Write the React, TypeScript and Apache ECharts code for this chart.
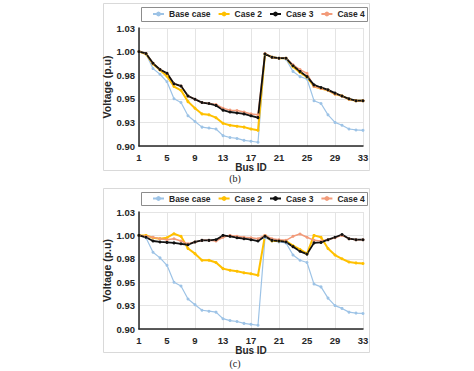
import React, { useEffect, useRef } from "react";
import * as echarts from "echarts";

const buses = ["1","2","3","4","5","6","7","8","9","10","11","12","13","14","15","16","17","18","19","20","21","22","23","24","25","26","27","28","29","30","31","32","33"];
const yTickLabels = ["0.90", "0.93", "0.95", "0.98", "1.00", "1.03"];
const seriesNames = ["Base case", "Case 2", "Case 3", "Case 4"];

// Base case is shared by both panels
const baseCase = [1.000, 0.9975, 0.982, 0.976, 0.968, 0.950, 0.946, 0.932, 0.926, 0.920, 0.919, 0.918, 0.911, 0.909, 0.908, 0.906, 0.905, 0.904, 0.9975, 0.994, 0.993, 0.992, 0.979, 0.9735, 0.971, 0.948, 0.945, 0.933, 0.925, 0.922, 0.918, 0.917, 0.9166];

// Panel (b)
const case2B = [1.000, 0.9975, 0.987, 0.9806, 0.974, 0.963, 0.959, 0.947, 0.940, 0.934, 0.933, 0.930, 0.924, 0.922, 0.921, 0.920, 0.918, 0.9166, 0.9975, 0.994, 0.993, 0.993, 0.984, 0.978, 0.973, 0.963, 0.961, 0.959, 0.955, 0.953, 0.9495, 0.948, 0.948];
const case3B = [1.000, 0.998, 0.9876, 0.981, 0.977, 0.966, 0.9635, 0.953, 0.9495, 0.946, 0.945, 0.943, 0.938, 0.936, 0.935, 0.934, 0.932, 0.930, 0.9975, 0.994, 0.993, 0.993, 0.985, 0.979, 0.9735, 0.9647, 0.962, 0.9595, 0.956, 0.953, 0.950, 0.948, 0.948];
const case4B = [1.000, 0.998, 0.9876, 0.981, 0.977, 0.966, 0.9635, 0.953, 0.9495, 0.946, 0.945, 0.944, 0.940, 0.938, 0.9375, 0.936, 0.934, 0.933, 0.998, 0.994, 0.993, 0.993, 0.986, 0.981, 0.977, 0.963, 0.961, 0.959, 0.955, 0.953, 0.9495, 0.948, 0.948];

// Panel (c)
const case2C = [1.000, 1.000, 0.9975, 0.9965, 0.9975, 1.0018, 0.999, 0.986, 0.9805, 0.9734, 0.9734, 0.971, 0.9645, 0.9628, 0.9617, 0.960, 0.959, 0.9574, 1.000, 0.994, 0.994, 0.994, 0.989, 0.985, 0.9805, 1.000, 0.998, 0.986, 0.979, 0.975, 0.9716, 0.9706, 0.970];
const case3C = [1.000, 0.998, 0.994, 0.993, 0.9925, 0.992, 0.991, 0.990, 0.993, 0.9947, 0.9947, 0.9954, 1.000, 0.999, 0.9975, 0.9965, 0.9954, 0.994, 0.999, 0.9947, 0.994, 0.993, 0.988, 0.983, 0.980, 0.992, 0.9925, 0.9954, 0.998, 1.001, 0.9965, 0.9954, 0.9954];
const case4C = [1.000, 0.999, 0.998, 0.9965, 0.9954, 0.9965, 0.994, 0.991, 0.993, 0.9947, 0.9947, 0.994, 0.998, 1.000, 0.999, 0.998, 0.9975, 0.9965, 1.000, 0.9965, 0.9954, 0.9947, 0.999, 1.0015, 0.998, 0.9947, 0.994, 0.9954, 0.9975, 1.000, 0.9965, 0.9954, 0.9954];

const FONT = "'Liberation Sans', Arial, sans-serif";
const COLORS = { base: "#9DC3E6", c2: "#FFC000", c3: "#111111", c4: "#F29B7A" };

function xAxisFor(gridIndex: number) {
  return {
    type: "category",
    gridIndex,
    data: buses,
    boundaryGap: false,
    name: "Bus ID",
    nameLocation: "middle",
    nameGap: 14,
    nameTextStyle: { fontFamily: FONT, fontWeight: "bold", fontSize: 10, color: "#262626" },
    axisLine: { lineStyle: { color: "#262626", width: 1.5 } },
    axisTick: { show: false },
    axisLabel: { interval: 3, fontFamily: FONT, fontWeight: "bold", fontSize: 9.5, color: "#262626", margin: 6 },
    splitLine: { show: true, interval: 3, lineStyle: { color: "#e4e4e4", width: 1 } },
  };
}

function yAxisFor(gridIndex: number) {
  return {
    type: "value",
    gridIndex,
    min: 0.9,
    max: 1.025,
    interval: 0.025,
    name: "Voltage (p.u)",
    nameLocation: "middle",
    nameGap: 25,
    nameTextStyle: { fontFamily: FONT, fontWeight: "bold", fontSize: 10.5, color: "#262626" },
    axisLine: { show: true, lineStyle: { color: "#262626", width: 1.5 } },
    axisTick: { show: false },
    axisLabel: {
      fontFamily: FONT,
      fontWeight: "bold",
      fontSize: 9.5,
      color: "#262626",
      margin: 4,
      formatter: (v: number) => yTickLabels[Math.round((v - 0.9) / 0.025)] ?? "",
    },
    splitLine: { show: true, lineStyle: { color: "#e4e4e4", width: 1 } },
  };
}

function lineSeries(name: string, data: number[], idx: number, color: string, width: number) {
  return {
    type: "line",
    name,
    xAxisIndex: idx,
    yAxisIndex: idx,
    data,
    symbol: "circle",
    symbolSize: 3,
    showSymbol: true,
    lineStyle: { color, width },
    itemStyle: { color },
  };
}

export default function App() {
  const ref = useRef<HTMLDivElement>(null);
  useEffect(() => {
    if (!ref.current) return;
    const chart = echarts.init(ref.current, undefined, { renderer: "svg" });
    const legendCommon = {
      data: seriesNames,
      orient: "horizontal",
      left: 152,
      padding: 0,
      itemWidth: 11,
      itemHeight: 6,
      itemGap: 7,
      textStyle: { fontFamily: FONT, fontWeight: "bold", fontSize: 8.5, color: "#262626" },
    };
    chart.setOption({
      animation: false,
      backgroundColor: "#ffffff",
      grid: [
        { left: 139, top: 28, width: 224, height: 118 },
        { left: 139, top: 212, width: 224, height: 117 },
      ],
      xAxis: [xAxisFor(0), xAxisFor(1)],
      yAxis: [yAxisFor(0), yAxisFor(1)],
      legend: [
        { ...legendCommon, top: 9.5 },
        { ...legendCommon, top: 194 },
      ],
      series: [
        lineSeries("Base case", baseCase, 0, COLORS.base, 1.2),
        lineSeries("Case 2", case2B, 0, COLORS.c2, 2),
        lineSeries("Case 4", case4B, 0, COLORS.c4, 1.5),
        lineSeries("Case 3", case3B, 0, COLORS.c3, 1.8),
        lineSeries("Base case", baseCase, 1, COLORS.base, 1.2),
        lineSeries("Case 2", case2C, 1, COLORS.c2, 2),
        lineSeries("Case 4", case4C, 1, COLORS.c4, 1.5),
        lineSeries("Case 3", case3C, 1, COLORS.c3, 1.8),
      ],
      graphic: [
        { type: "rect", z: -1, shape: { x: 103.5, y: 3.5, width: 266, height: 167 }, style: { fill: "none", stroke: "#d9d9d9", lineWidth: 1 } },
        { type: "rect", z: -1, shape: { x: 103.5, y: 188.5, width: 266, height: 164 }, style: { fill: "none", stroke: "#d9d9d9", lineWidth: 1 } },
        { type: "rect", shape: { x: 141.5, y: 7.5, width: 226, height: 14 }, style: { fill: "none", stroke: "#8c8c8c", lineWidth: 1 } },
        { type: "rect", shape: { x: 141.5, y: 192.5, width: 226, height: 13 }, style: { fill: "none", stroke: "#8c8c8c", lineWidth: 1 } },
        { type: "text", x: 235, y: 178, style: { text: "(b)", fontFamily: "'Liberation Serif', serif", fontSize: 10, fill: "#222", textAlign: "center", textVerticalAlign: "middle" } },
        { type: "text", x: 235, y: 363, style: { text: "(c)", fontFamily: "'Liberation Serif', serif", fontSize: 10, fill: "#222", textAlign: "center", textVerticalAlign: "middle" } },
      ],
    });
    return () => chart.dispose();
  }, []);
  return <div ref={ref} style={{ position: "fixed", left: 0, top: 0, width: 474, height: 371, background: "#fff" }} />;
}
